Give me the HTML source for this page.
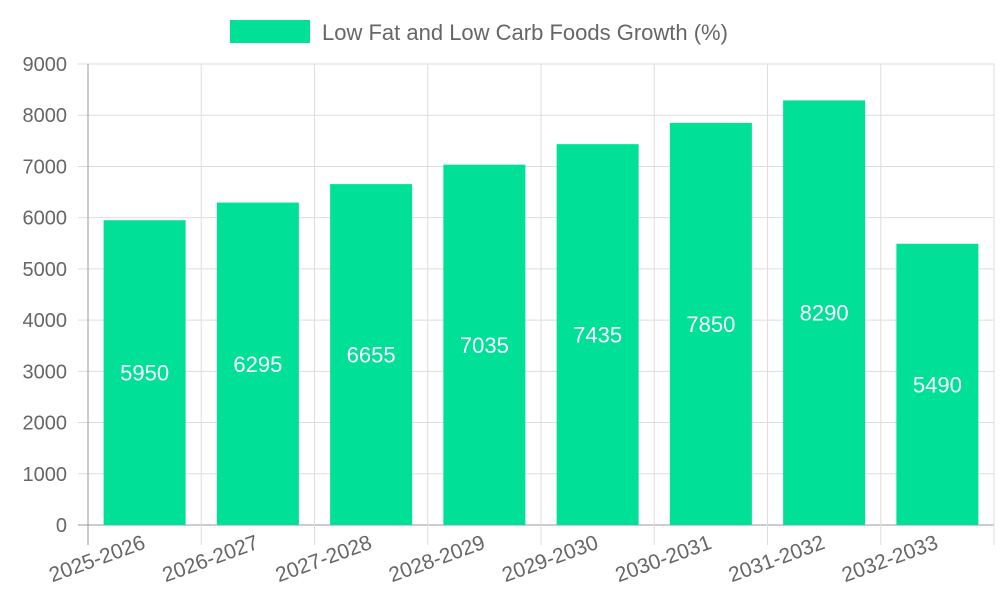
<!DOCTYPE html>
<html><head><meta charset="utf-8"><style>
body{margin:0;background:#fff}
svg{display:block;font-family:"Liberation Sans",sans-serif}
</style></head><body>
<svg id="c" width="1000" height="600">
<rect x="230" y="20" width="80" height="23" fill="#00e096"/>
<text x="322" y="40" font-size="22" fill="#666">Low Fat and Low Carb Foods Growth (%)</text>
<g id="grid"></g><g id="bars"></g>
</svg>
<script>
const categories=["2025-2026","2026-2027","2027-2028","2028-2029","2029-2030","2030-2031","2031-2032","2032-2033"];
const values=[5950,6295,6655,7035,7435,7850,8290,5490];
const yTicks=[0,1000,2000,3000,4000,5000,6000,7000,8000,9000];
const svg=document.getElementById('c'),grid=document.getElementById('grid'),bars=document.getElementById('bars');
const NS="http://www.w3.org/2000/svg";
const L=88,R=994,T=64,B=525,yMax=9000;
const bw=(R-L)/categories.length;
const y=v=>B-(v/yMax)*(B-T);
const x=i=>L+i*bw;
function mk(t,a,p){const e=document.createElementNS(NS,t);for(const k in a)e.setAttribute(k,a[k]);p.appendChild(e);return e;}
yTicks.forEach(v=>{
 const l=mk('line',{x1:78,x2:R,y1:y(v),y2:y(v),stroke:v===0?'#999':'#ddd','stroke-width':1},grid);
 
 
 const t=mk('text',{x:67,y:y(v)+7,'text-anchor':'end','font-size':20,fill:'#666'},grid);
 t.textContent=v;
 
 
});
for(let i=0;i<=categories.length;i++){
 const l=mk('line',{x1:x(i),x2:x(i),y1:T,y2:545,stroke:i===0?'#999':'#ddd','stroke-width':1},grid);
 
 
}
categories.forEach((c,i)=>{
 const cx=x(i)+bw/2,v=values[i];
 const r=mk('rect',{x:cx-41,y:y(v),width:82,height:B-y(v),fill:'#00e096'},bars);
 
 
 const t=mk('text',{x:cx,y:(y(v)+B)/2+8,'text-anchor':'middle','font-size':22,fill:'#fff'},bars);
 t.textContent=v;
 
 
 const xl=mk('text',{x:cx+2,y:548,'text-anchor':'end','font-size':21,fill:'#666',transform:`rotate(-20 ${cx+2} 548)`},bars);
 xl.textContent=c;
 
 
});
</script>
</body></html>
